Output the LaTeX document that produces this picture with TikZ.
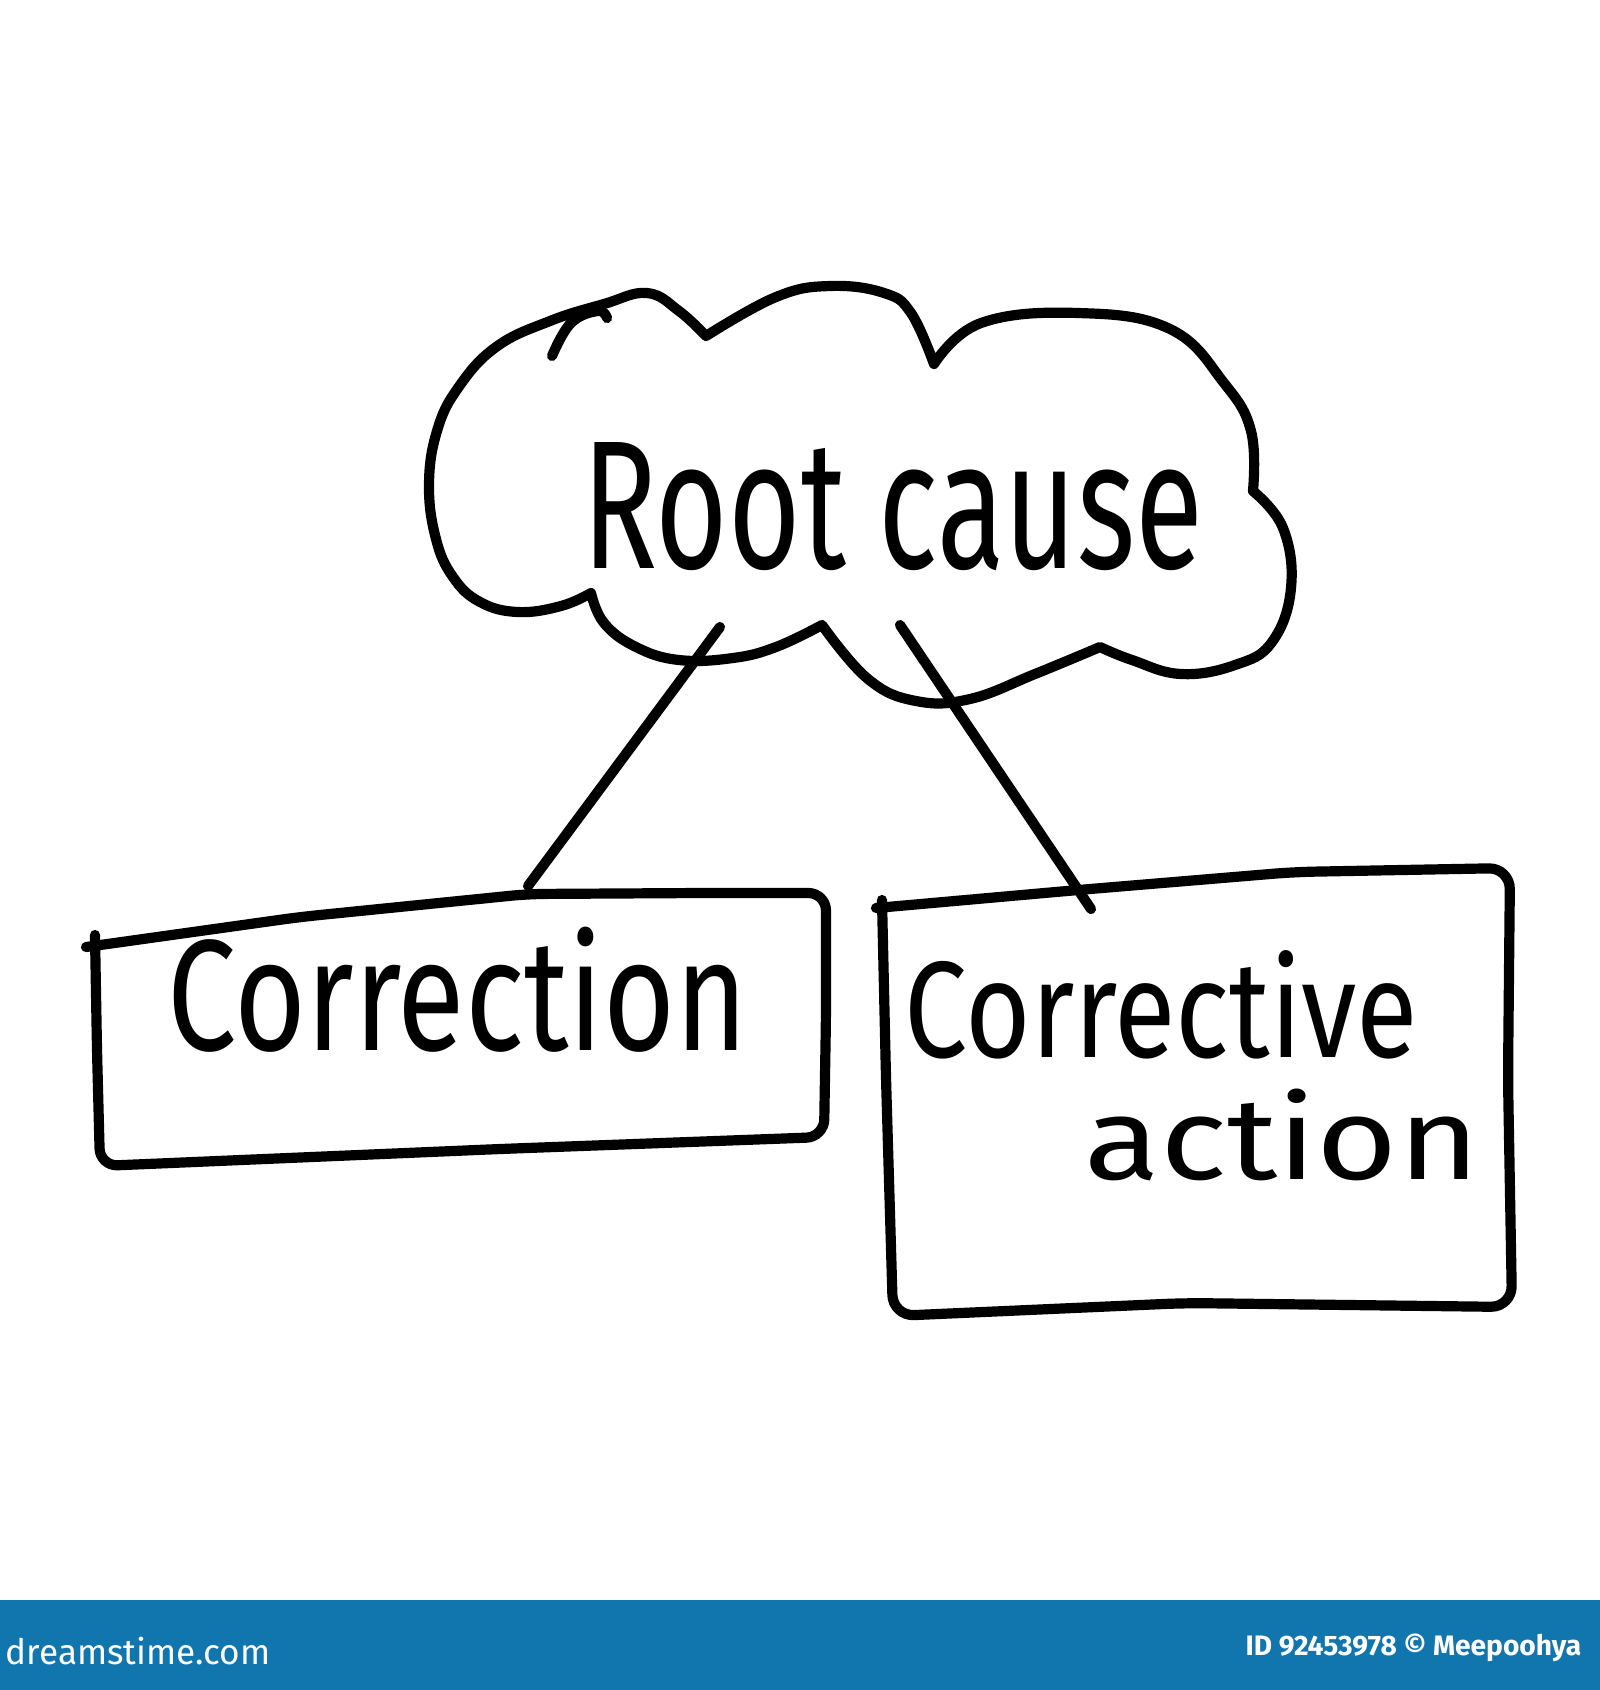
\documentclass[tikz,border=0pt]{standalone}
\usepackage{fontspec}
\setmainfont{Fira Sans}
\usepackage{tikz}
\usetikzlibrary{positioning}

\definecolor{barblue}{RGB}{18,118,174}

\begin{document}
\begin{tikzpicture}[x=0.01cm,y=-0.01cm]

\tikzset{pen/.style={
		line width=2.9pt,
		line cap=round,
		line join=round
	},
	hand/.style={
		inner sep=0pt,
		anchor=base west,
		font=\fontsize{#1}{#1}\selectfont
	},
	hand/.default=40pt,
	bartext/.style={
		inner sep=0pt,
		text=white,
		font=\fontsize{#1}{#1}\selectfont
	}
}

\useasboundingbox (0,0) rectangle (1600,1690);

% cloud
\draw[pen] plot[smooth, tension=0.7] coordinates {(591,593) (561,606) (518,612) (480,602) (453,577) (436,539) (429,485) (437,431) (458,388) (496,347) (550,321) (604,304) (647,293) (679,311) (706,336)}
	-- plot[smooth, tension=0.7] coordinates {(706,336) (776,297) (830,286) (884,293) (911,313) (934,364)}
	-- plot[smooth, tension=0.7] coordinates {(934,364) (981,323) (1078,313) (1170,329) (1224,383) (1251,431) (1253,491)}
	-- plot[smooth, tension=0.7] coordinates {(1253,491) (1283,528) (1291,588) (1272,642) (1235,665) (1181,674) (1132,660) (1100,647)}
	-- plot[smooth, tension=0.7] coordinates {(1100,647) (1035,674) (970,699) (916,701) (868,679) (822,625)}
	-- plot[smooth, tension=0.7] coordinates {(822,625) (776,647) (733,658) (679,660) (636,647) (604,623) (591,593)};
\draw[pen] plot[smooth, tension=0.7] coordinates {(552,356) (571,323) (598,311) (607,318)};

\node[hand=52pt, xscale=0.68] (rootcause) at (582,568) {Root cause};

% boxes
\draw[pen, rounded corners=5pt] (86,947) -- (300,917) -- (528,894) -- (700,893) -- (826,893) -- (826,1015) -- (824,1137) -- (500,1149) -- (100,1166) -- (97,1050) -- (95,935);
\draw[pen, rounded corners=6pt] (876,908) -- (1078,890) -- (1294,872) -- (1510,868) -- (1508,1078) -- (1512,1307) -- (1186,1303) -- (893,1316) -- (886,1078) -- (882,900);

\node[hand=45pt, xscale=0.78] (correction) at (167,1050) {Correction};
\node[hand=39pt, xscale=0.82] (corrective) at (904,1057) {Corrective};
\node[hand=33pt, xscale=1.2] (action) at (1084,1179) {action};

% connectors
\coordinate (cloudl) at (720,627);
\coordinate (cloudr) at (900,625);
\coordinate (corrtop) at (528,886);
\coordinate (acttop) at (1091,909);
\draw[pen] (cloudl) -- (corrtop);
\draw[pen] (cloudr) -- (acttop);

% bottom bar
\fill[barblue] (0,1600) rectangle (1600,1690);
\node[bartext=10pt, anchor=base west] (site) at (5,1664) {dreamstime.com};
\node[bartext=8pt, anchor=base east] (imgid) at (1582,1655) {\bfseries ID 92453978 © Meepoohya};

\end{tikzpicture}
\end{document}
